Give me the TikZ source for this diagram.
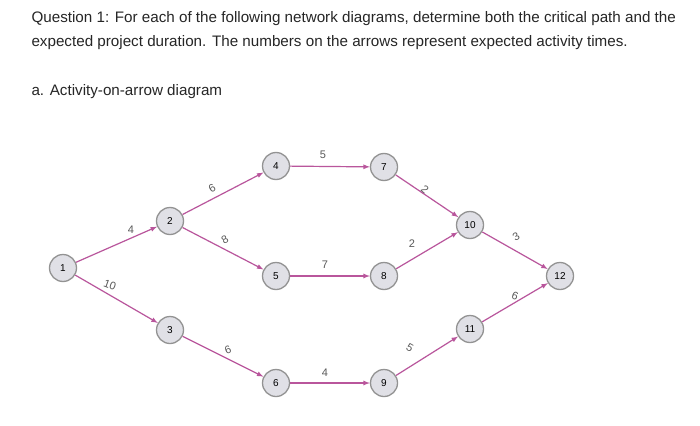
\documentclass[tikz,border=0pt]{standalone}
\usepackage{fontspec}
\setmainfont{Liberation Sans}
\begin{document}
\begin{tikzpicture}[x=1pt,y=-1pt,
  ev/.style={circle,draw=gray!85,line width=1.3pt,fill=blue!10!gray!22,minimum size=27pt,inner sep=0pt,font=\fontsize{10}{12}\selectfont},
  act/.style={draw=violet!55!pink,line width=1.2pt,-latex},
  lab/.style={font=\fontsize{11}{13}\selectfont,text=gray!70!black},
  ttl/.style={anchor=west,font=\fontsize{15.2}{17}\selectfont,text=black!85}]
\useasboundingbox[fill=white] (0,0) rectangle (700,425);
\node[ttl] (t1) at (28,19) {Question 1: For each of the following network diagrams, determine both the critical path and the};
\node[ttl] (t2) at (28,43) {expected project duration. The numbers on the arrows represent expected activity times.};
\node[ttl] (t3) at (28,92) {a. Activity-on-arrow diagram};
\node[ev] (n1) at (63,268) {1};
\node[ev] (n2) at (170,221) {2};
\node[ev] (n3) at (170,330) {3};
\node[ev] (n4) at (276,166) {4};
\node[ev] (n5) at (276,276) {5};
\node[ev] (n6) at (276,383) {6};
\node[ev] (n7) at (384,167) {7};
\node[ev] (n8) at (384,276) {8};
\node[ev] (n9) at (384,383) {9};
\node[ev] (n10) at (470,225) {10};
\node[ev] (n11) at (470,329) {11};
\node[ev] (n12) at (560,276) {12};
\draw[act] (n1) -- (n2);
\draw[act] (n1) -- (n3);
\draw[act] (n2) -- (n4);
\draw[act] (n2) -- (n5);
\draw[act] (n3) -- (n6);
\draw[act] (n4) -- (n7);
\draw[act] (n5) -- (n8);
\draw[act] (n6) -- (n9);
\draw[act] (n7) -- (n10);
\draw[act] (n8) -- (n10);
\draw[act] (n9) -- (n11);
\draw[act] (n10) -- (n12);
\draw[act] (n11) -- (n12);
\node[lab] (l1) at (131,230) {4};
\node[lab,rotate=-20] (l2) at (110,285) {10};
\node[lab,rotate=-150] (l3) at (212,188) {9};
\node[lab,rotate=30] (l4) at (225,240) {8};
\node[lab,rotate=20] (l5) at (228,350) {6};
\node[lab] (l6) at (323,155) {5};
\node[lab] (l7) at (325,265) {7};
\node[lab] (l8) at (325,373) {4};
\node[lab,rotate=-40] (l9) at (425,190) {2};
\node[lab] (l10) at (412,244) {2};
\node[lab,rotate=-30] (l11) at (410,348) {5};
\node[lab,rotate=30] (l12) at (516,237) {3};
\node[lab,rotate=-20] (l13) at (515,296) {6};
\end{tikzpicture}
\end{document}
